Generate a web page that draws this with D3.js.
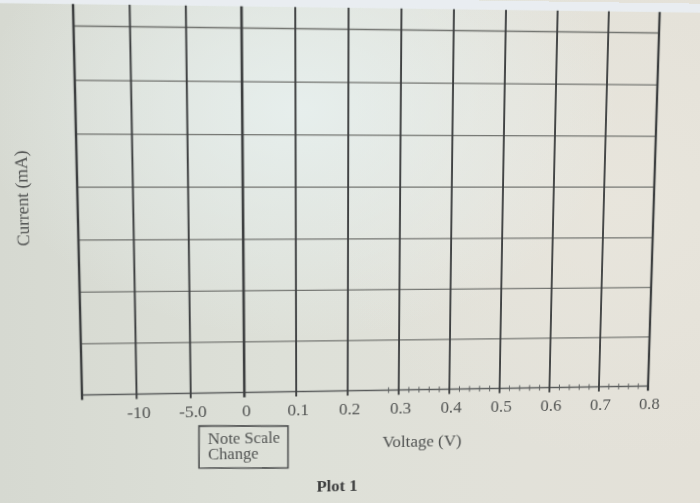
<!DOCTYPE html>
<html>
<head>
<meta charset="utf-8">
<script src="https://cdn.jsdelivr.net/npm/d3@7"></script>
<style>
html,body{margin:0;padding:0;width:700px;height:503px;overflow:hidden;background:#dcded7;}
#bg{position:absolute;left:0;top:0;width:700px;height:503px;
  background:
   radial-gradient(ellipse 320px 230px at 300px 110px, rgba(232,241,240,0.85), rgba(232,241,240,0) 100%),
   radial-gradient(ellipse 300px 260px at 620px 200px, rgba(233,230,221,0.8), rgba(233,230,221,0) 100%),
   linear-gradient(90deg, #d6d9d1 0%, #dde0d8 40%, #e2e1d9 75%, #e4e1d8 100%);}
#chart{position:absolute;left:0;top:0;transform-origin:0 0;}
</style>
</head>
<body>
<div id="bg"></div>
<svg id="chart" width="700" height="503"></svg>
<script>
// ---- data ----
const leftTicks = [-10, -5];
const leftLabels = ["-10", "-5.0"];
const rightTicks = [0, 0.1, 0.2, 0.3, 0.4, 0.5, 0.6, 0.7, 0.8];
const rightLabels = ["0", "0.1", "0.2", "0.3", "0.4", "0.5", "0.6", "0.7", "0.8"];
const yGrid = [1, 2, 3, 4, 5, 6, 7];
const xTitle = "Voltage (V)";
const yTitle = "Current (mA)";
const noteLines = ["Note Scale", "Change"];
const plotTitle = "Plot 1";

// ---- flat layout ----
const L = 78, R = 654, X0 = L + 0.278 * (R - L);
const xL = d3.scaleLinear().domain([-15, 0]).range([L, X0]);
const xR = d3.scaleLinear().domain([0, 0.8]).range([X0, R]);
const y = d3.scaleLinear().domain([0, 7]).range([390.5, 29.5]);
const yTopVal = 7.4;

// ---- perspective (photo of printed page) ----
const src = [[L, y(7)], [R, y(7)], [L, y(0)], [R, y(0)]];
const dst = [[73.5, 26], [659, 33], [82, 395], [648, 386]];
function solve(A, b) {
  const n = b.length;
  for (let i = 0; i < n; i++) {
    let p = i;
    for (let k = i + 1; k < n; k++) if (Math.abs(A[k][i]) > Math.abs(A[p][i])) p = k;
    [A[i], A[p]] = [A[p], A[i]]; [b[i], b[p]] = [b[p], b[i]];
    for (let k = i + 1; k < n; k++) {
      const f = A[k][i] / A[i][i];
      for (let j = i; j < n; j++) A[k][j] -= f * A[i][j];
      b[k] -= f * b[i];
    }
  }
  const x = new Array(n).fill(0);
  for (let i = n - 1; i >= 0; i--) {
    let s = b[i];
    for (let j = i + 1; j < n; j++) s -= A[i][j] * x[j];
    x[i] = s / A[i][i];
  }
  return x;
}
const A = [], B = [];
for (let i = 0; i < 4; i++) {
  const [x0, y0] = src[i], [u, v] = dst[i];
  A.push([x0, y0, 1, 0, 0, 0, -u * x0, -u * y0]); B.push(u);
  A.push([0, 0, 0, x0, y0, 1, -v * x0, -v * y0]); B.push(v);
}
const h = solve(A, B);
const H = [[h[0], h[1], h[2]], [h[3], h[4], h[5]], [h[6], h[7], 1]];
function inv3(m) {
  const [a, b, c] = m[0], [d, e, f] = m[1], [g, hh, i] = m[2];
  const A_ = e * i - f * hh, B_ = -(d * i - f * g), C_ = d * hh - e * g;
  const det = a * A_ + b * B_ + c * C_;
  return [[A_ / det, -(b * i - c * hh) / det, (b * f - c * e) / det],
          [B_ / det, (a * i - c * g) / det, -(a * f - c * d) / det],
          [C_ / det, -(a * hh - b * g) / det, (a * e - b * d) / det]];
}
const Hi = inv3(H);
function place(u, v) {
  const X = Hi[0][0] * u + Hi[0][1] * v + Hi[0][2];
  const Y = Hi[1][0] * u + Hi[1][1] * v + Hi[1][2];
  const W = Hi[2][0] * u + Hi[2][1] * v + Hi[2][2];
  return [X / W, Y / W];
}
d3.select("#chart").style("transform",
  `matrix3d(${H[0][0]},${H[1][0]},0,${H[2][0]},${H[0][1]},${H[1][1]},0,${H[2][1]},0,0,1,0,${H[0][2]},${H[1][2]},0,1)`);

const svg = d3.select("#chart");
const font = "'Liberation Serif','DejaVu Serif',serif";
const txt = "#505251";

// screen strip above page top
svg.append("rect").attr("x", -50).attr("y", -60).attr("width", 800)
  .attr("height", y(yTopVal) + 60).attr("fill", "#e9edf1");

// horizontal grid lines
svg.append("g").selectAll("line").data(yGrid).join("line")
  .attr("x1", xL(-15)).attr("x2", xR(0.8))
  .attr("y1", d => y(d)).attr("y2", d => y(d))
  .attr("stroke", "#747672").attr("stroke-width", 1.3);

// x axis baseline
svg.append("line").attr("x1", xL(-15)).attr("x2", xR(0.8))
  .attr("y1", y(0)).attr("y2", y(0))
  .attr("stroke", "#5a5c5c").attr("stroke-width", 1.6);

// minor ticks on right segment
svg.append("g").selectAll("line").data(xR.ticks(40).filter(d => d >= 0.28)).join("line")
  .attr("x1", d => xR(d)).attr("x2", d => xR(d))
  .attr("y1", y(0) - 3).attr("y2", y(0) + 3)
  .attr("stroke", "#5f6161").attr("stroke-width", 1);

// vertical grid lines
const verts = [{v: -15, s: xL, w: 2.4}]
  .concat(leftTicks.map(v => ({v, s: xL, w: 1.9})))
  .concat(rightTicks.map(v => ({v, s: xR, w: v === 0 ? 2.6 : (v === 0.8 ? 2.4 : 1.9)})));
svg.append("g").selectAll("line").data(verts).join("line")
  .attr("x1", d => d.s(d.v)).attr("x2", d => d.s(d.v))
  .attr("y1", y(yTopVal)).attr("y2", y(0) + 5)
  .attr("stroke", "#3e4041").attr("stroke-width", d => d.w);

// tick labels
const lab = svg.append("g").attr("font-family", font).attr("font-size", 17.5)
  .attr("fill", txt).attr("text-anchor", "middle");
leftTicks.forEach((v, i) => lab.append("text").attr("x", xL(v) + 2).attr("y", y(0) + 25).text(leftLabels[i]));
rightTicks.forEach((v, i) => lab.append("text").attr("x", xR(v) + 2).attr("y", y(0) + 25).text(rightLabels[i]));

// note box
const corners = [[199, 426], [288, 426], [288, 468], [199, 468]].map(p => place(p[0], p[1]));
svg.append("path").attr("d", "M" + corners.map(p => p.join(",")).join("L") + "Z")
  .attr("fill", "none").attr("stroke", "#4e5050").attr("stroke-width", 1.6);
const n1 = place(208, 444), n2 = place(208, 460);
svg.append("text").attr("x", n1[0]).attr("y", n1[1]).attr("font-family", font).attr("font-size", 16.6)
  .attr("fill", txt).text(noteLines[0]);
svg.append("text").attr("x", n2[0]).attr("y", n2[1]).attr("font-family", font).attr("font-size", 16.6)
  .attr("fill", txt).text(noteLines[1]);

// axis titles
const vt = place(422, 447);
svg.append("text").attr("x", vt[0]).attr("y", vt[1]).attr("text-anchor", "middle")
  .attr("font-family", font).attr("font-size", 17.5).attr("fill", txt).text(xTitle);
const ct = place(28, 198.5);
svg.append("text").attr("transform", `translate(${ct[0]},${ct[1]}) rotate(-90)`)
  .attr("text-anchor", "middle").attr("font-family", font).attr("font-size", 17)
  .attr("fill", txt).text(yTitle);
const pt = place(337, 491);
svg.append("text").attr("x", pt[0]).attr("y", pt[1]).attr("text-anchor", "middle")
  .attr("font-family", font).attr("font-size", 17).attr("font-weight", "bold")
  .attr("fill", "#3c3d3d").text(plotTitle);
</script>
</body>
</html>
